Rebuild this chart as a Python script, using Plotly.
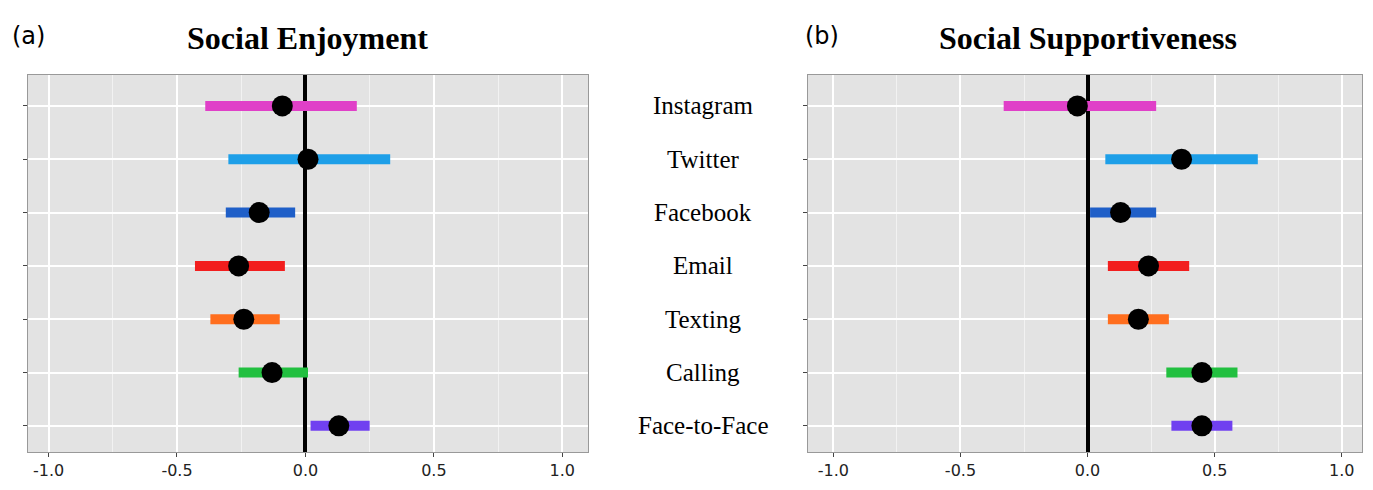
import plotly.graph_objects as go

media = ["Instagram", "Twitter", "Facebook", "Email", "Texting", "Calling", "Face-to-Face"]
colors = ["#E040C8", "#1E9FE8", "#1F5FC8", "#F21E1E", "#FF6E1E", "#22C040", "#7040F0"]

enjoy_est = [-0.09, 0.01, -0.18, -0.26, -0.24, -0.13, 0.13]
enjoy_lo = [-0.39, -0.30, -0.31, -0.43, -0.37, -0.26, 0.02]
enjoy_hi = [0.20, 0.33, -0.04, -0.08, -0.10, 0.01, 0.25]

support_est = [-0.04, 0.37, 0.13, 0.24, 0.20, 0.45, 0.45]
support_lo = [-0.33, 0.07, 0.01, 0.08, 0.08, 0.31, 0.33]
support_hi = [0.27, 0.67, 0.27, 0.40, 0.32, 0.59, 0.57]

tick_vals = [-1.0, -0.5, 0.0, 0.5, 1.0]
tick_text = ["-1.0", "-0.5", "0.0", "0.5", "1.0"]

n = len(media)
ypos = [n - 1 - i for i in range(n)]

W, H = 1373, 490
off = 8  # page body margin

fig = go.Figure()
for xa, ya, est, lo, hi in [("x", "y", enjoy_est, enjoy_lo, enjoy_hi),
                            ("x2", "y2", support_est, support_lo, support_hi)]:
    for i in range(n):
        fig.add_trace(go.Scatter(x=[lo[i], hi[i]], y=[ypos[i], ypos[i]], mode="lines",
                                 line=dict(color=colors[i], width=10), xaxis=xa, yaxis=ya,
                                 showlegend=False, hoverinfo="skip"))
    fig.add_trace(go.Scatter(x=est, y=ypos, mode="markers", marker=dict(color="black", size=21),
                             xaxis=xa, yaxis=ya, showlegend=False))

xcommon = dict(tickvals=tick_vals, ticktext=tick_text, showgrid=True, gridcolor="white", gridwidth=1.5,
               minor=dict(dtick=0.25, showgrid=True, gridcolor="#F2F2F2", gridwidth=1),
               zeroline=True, zerolinecolor="black", zerolinewidth=4,
               ticks="outside", ticklen=4, tickcolor="#444",
               tickfont=dict(family="DejaVu Sans", size=16, color="#222"),
               showline=True, linecolor="#999", mirror=True)
ycommon = dict(range=[-0.49, 6.58], tickvals=ypos, showticklabels=False, showgrid=True,
               gridcolor="white", gridwidth=1.5, zeroline=False, ticks="outside", ticklen=4,
               tickcolor="#444", showline=True, linecolor="#999", mirror=True)


def px_x(p):
    return (p - off) / W


def px_y(p):
    return 1 - (p - off) / H


ydom = [px_y(452), px_y(75)]
fig.update_layout(
    width=W, height=H, margin=dict(l=0, r=0, t=0, b=0),
    paper_bgcolor="white", plot_bgcolor="#E3E3E3",
    xaxis=dict(domain=[px_x(28), px_x(588)], range=[-1.08, 1.10], **xcommon),
    yaxis=dict(domain=ydom, anchor="x", **ycommon),
    xaxis2=dict(domain=[px_x(808), px_x(1362)], range=[-1.1, 1.08], anchor="y2", **xcommon),
    yaxis2=dict(domain=ydom, anchor="x2", **ycommon),
)

ann = [
    dict(x=307, y=38, text="<b>Social Enjoyment</b>", font=dict(family="Liberation Serif", size=32)),
    dict(x=1088, y=38, text="<b>Social Supportiveness</b>", font=dict(family="Liberation Serif", size=32)),
    dict(x=28, y=36, text="(a)", font=dict(family="DejaVu Sans", size=24)),
    dict(x=822, y=36, text="(b)", font=dict(family="DejaVu Sans", size=24)),
]
for a in ann:
    fig.add_annotation(x=px_x(a["x"]), y=px_y(a["y"]), xref="paper", yref="paper",
                       xanchor="center", yanchor="middle",
                       text=a["text"], font=dict(color="black", **a["font"]), showarrow=False)
for i, m in enumerate(media):
    fig.add_annotation(x=px_x(703), y=ypos[i], xref="paper", yref="y", text=m, showarrow=False,
                       xanchor="center", yanchor="middle",
                       font=dict(family="Liberation Serif", size=25, color="black"))

fig.write_html("out.html")
